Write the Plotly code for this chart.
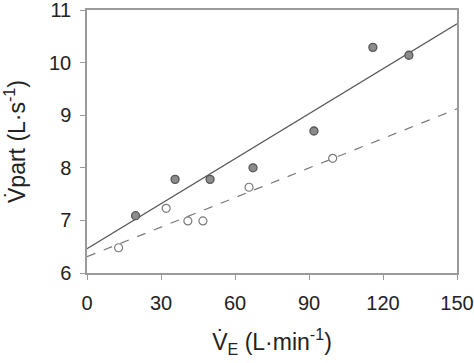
import plotly.graph_objects as go

# filled (gray) points
filled_x = [19.7, 35.7, 49.9, 67.3, 92.0, 115.9, 130.5]
filled_y = [7.09, 7.78, 7.78, 8.00, 8.70, 10.29, 10.14]
# open points
open_x = [12.8, 32.1, 40.9, 47.0, 65.7, 99.6]
open_y = [6.48, 7.23, 6.99, 6.99, 7.63, 8.18]

# regression lines (intercept, slope)
solid_fit = (6.46, 0.02853)
dashed_fit = (6.31, 0.01873)
line_x = [0, 150]

x_ticks = [0, 30, 60, 90, 120, 150]
y_ticks = [6, 7, 8, 9, 10, 11]

axis_col = "#9a9a9a"
font_fam = "Liberation Sans, Arial, sans-serif"

fig = go.Figure()
fig.add_trace(go.Scatter(x=line_x, y=[solid_fit[0] + solid_fit[1] * v for v in line_x],
                         mode="lines", line=dict(color="#555555", width=1.2), showlegend=False))
fig.add_trace(go.Scatter(x=line_x, y=[dashed_fit[0] + dashed_fit[1] * v for v in line_x],
                         mode="lines", line=dict(color="#7a7a7a", width=1.2, dash="dash"), showlegend=False))
fig.add_trace(go.Scatter(x=filled_x, y=filled_y, mode="markers",
                         marker=dict(size=8, color="#8c8c8c", line=dict(color="#555555", width=1.3)),
                         showlegend=False))
fig.add_trace(go.Scatter(x=open_x, y=open_y, mode="markers",
                         marker=dict(size=8, color="white", line=dict(color="#7a7a7a", width=1.2)),
                         showlegend=False))

fig.update_layout(
    width=474, height=363,
    margin=dict(l=87, r=17, t=10, b=90),
    paper_bgcolor="white", plot_bgcolor="white",
    font=dict(family=font_fam, color="#222222"),
    xaxis=dict(range=[0, 150], tickvals=x_ticks, ticks="outside", ticklen=5, tickcolor=axis_col,
               showline=True, linecolor=axis_col, linewidth=1.5, mirror=True, showgrid=False,
               zeroline=False, tickfont=dict(size=20), automargin=False,
               ticklabeloverflow="allow", ticklabelstandoff=6,
               title=dict(text="V̇<sub>E</sub> (L·min<sup>-1</sup>)", font=dict(size=23), standoff=21)),
    yaxis=dict(range=[6, 11], tickvals=y_ticks, ticks="outside", ticklen=5, tickcolor=axis_col,
               showline=True, linecolor=axis_col, linewidth=1.5, mirror=True, showgrid=False,
               zeroline=False, tickfont=dict(size=20), automargin=False,
               ticklabeloverflow="allow", ticklabelstandoff=5,
               title=dict(text="V̇part (L·s<sup>-1</sup>)", font=dict(size=23), standoff=17)),
)

fig.write_html("out.html", config={"displayModeBar": False},
               post_script="document.body.style.margin='0';")
